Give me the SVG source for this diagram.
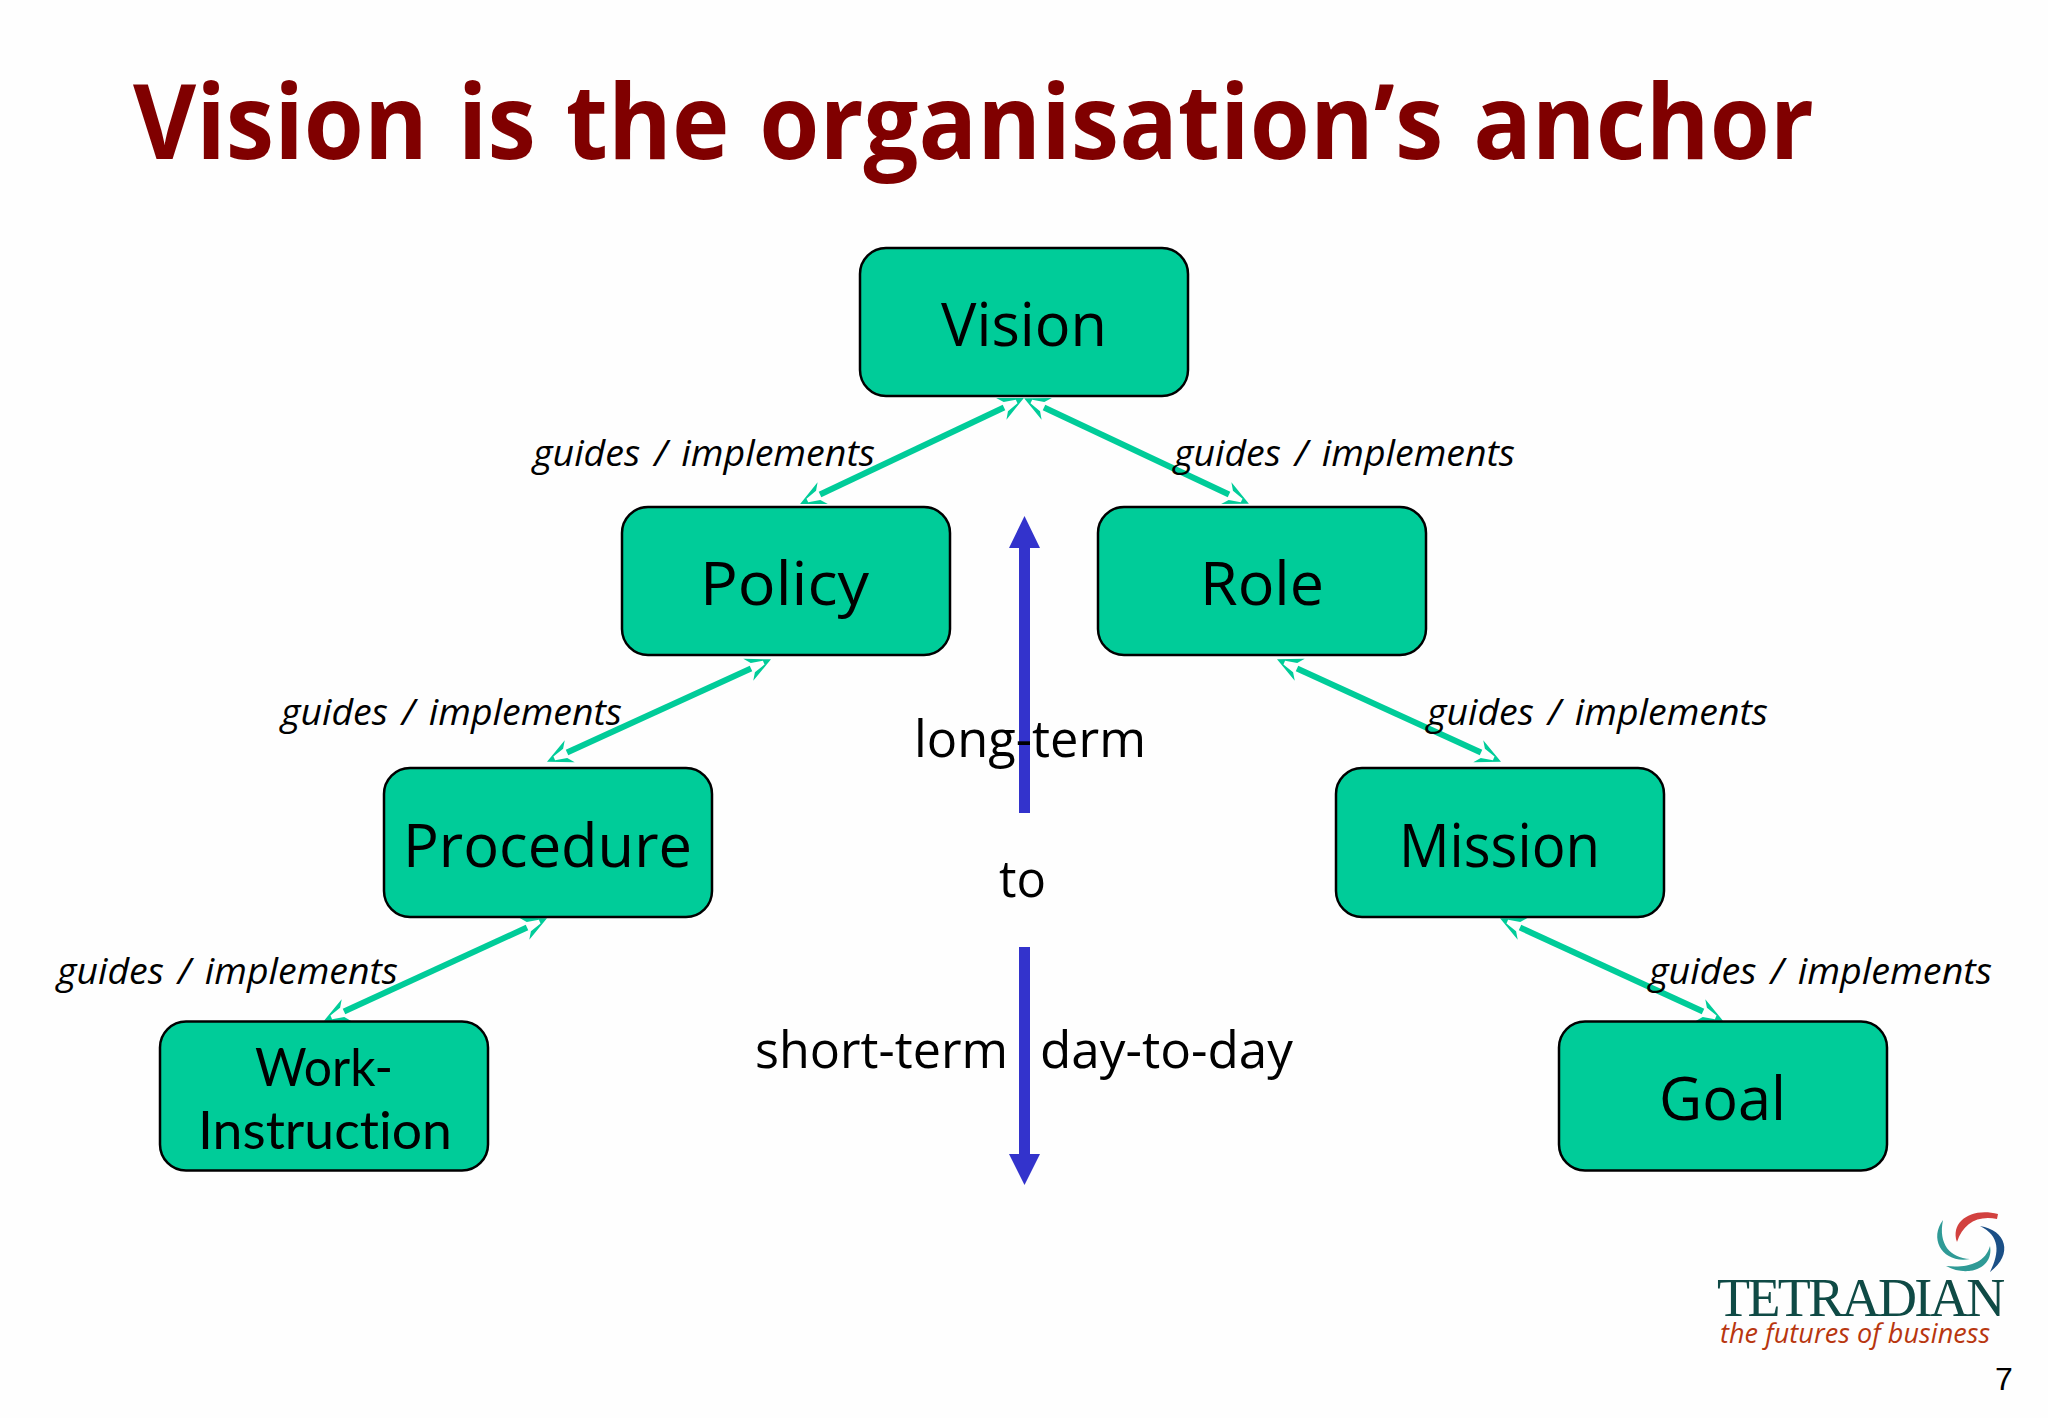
<svg xmlns="http://www.w3.org/2000/svg" width="2048" height="1418" viewBox="0 0 2048 1418">
<style>
text{font-family:"Open Sans","Noto Sans","DejaVu Sans",sans-serif;fill:#000}
.box{fill:#00cc99;stroke:#000;stroke-width:2.500}
.nl{font-size:60px}
.nl2{font-size:52px;font-family:Lato,"Open Sans",sans-serif;font-variant-ligatures:none}
.mid{font-size:52px}
.rel{font-size:36px;font-style:italic;word-spacing:4px}
.con{stroke:#00cc99;stroke-width:6;fill:none;marker-start:url(#ah);marker-end:url(#ah)}
.blue{fill:#3333cc}
</style>
<defs>
<marker id="ah" markerUnits="userSpaceOnUse" markerWidth="34" markerHeight="30" refX="8" refY="15" orient="auto-start-reverse" viewBox="0 0 34 30">
<path transform="translate(0,15)" d="M30,0L5,-12L10,-5L22,-2L22,2L10,5L5,12Z" fill="#00cc99"/>
</marker>
</defs>
<rect width="2048" height="1418" fill="#fefefe"/>
<text id="title" x="133" y="159" font-size="104" font-weight="700" style="fill:#800000;word-spacing:5px" textLength="1681" lengthAdjust="spacingAndGlyphs">Vision is the organisation’s anchor</text>
<g id="connectors">
<line class="con" x1="1004" y1="407.500" x2="820" y2="494.500"/>
<line class="con" x1="1044" y1="407.500" x2="1229" y2="494.500"/>
<line class="con" x1="751" y1="668.500" x2="567" y2="752.500"/>
<line class="con" x1="1297" y1="668.500" x2="1481" y2="752.500"/>
<line class="con" x1="527" y1="927.500" x2="344" y2="1011.500"/>
<line class="con" x1="1520" y1="927.500" x2="1703" y2="1011.500"/>
<text class="rel" x="533" y="466" textLength="342" lengthAdjust="spacingAndGlyphs">guides / implements</text>
<text class="rel" x="1174" y="466" textLength="341" lengthAdjust="spacingAndGlyphs">guides / implements</text>
<text class="rel" x="281" y="725" textLength="341" lengthAdjust="spacingAndGlyphs">guides / implements</text>
<text class="rel" x="1427" y="725" textLength="341" lengthAdjust="spacingAndGlyphs">guides / implements</text>
<text class="rel" x="57" y="984" textLength="341" lengthAdjust="spacingAndGlyphs">guides / implements</text>
<text class="rel" x="1649" y="984" textLength="343" lengthAdjust="spacingAndGlyphs">guides / implements</text>
</g>
<g id="node-vision"><rect class="box" x="860" y="248" width="328" height="148" rx="26"/><text class="nl" x="941" y="346" textLength="166" lengthAdjust="spacingAndGlyphs">Vision</text></g>
<g id="node-policy"><rect class="box" x="622" y="507" width="328" height="148" rx="26"/><text class="nl" x="700" y="605" textLength="169" lengthAdjust="spacingAndGlyphs">Policy</text></g>
<g id="node-role"><rect class="box" x="1098" y="507" width="328" height="148" rx="26"/><text class="nl" x="1200" y="605" textLength="124" lengthAdjust="spacingAndGlyphs">Role</text></g>
<g id="node-procedure"><rect class="box" x="384" y="768" width="328" height="149" rx="26"/><text class="nl" x="403" y="867" textLength="289" lengthAdjust="spacingAndGlyphs">Procedure</text></g>
<g id="node-mission"><rect class="box" x="1336" y="768" width="328" height="149" rx="26"/><text class="nl" x="1399" y="867" textLength="201" lengthAdjust="spacingAndGlyphs">Mission</text></g>
<g id="node-work-instruction"><rect class="box" x="160" y="1021.500" width="328" height="149" rx="26"/><text class="nl2" x="255" y="1086" textLength="138" lengthAdjust="spacingAndGlyphs">Work-</text><text class="nl2" x="198" y="1149" textLength="254" lengthAdjust="spacingAndGlyphs">Instruction</text></g>
<g id="node-goal"><rect class="box" x="1559" y="1021.500" width="328" height="149" rx="26"/><text class="nl" x="1659" y="1120" textLength="127" lengthAdjust="spacingAndGlyphs">Goal</text></g>
<g id="timescale">
<path class="blue" d="M1024.500,516L1040,548L1030,548L1030,813L1019,813L1019,548L1009,548Z"/>
<path class="blue" d="M1019,947L1030,947L1030,1154L1040,1154L1024.500,1185L1009,1154L1019,1154Z"/>
<text class="mid" x="914" y="757" textLength="232" lengthAdjust="spacingAndGlyphs">long-term</text>
<text class="mid" x="999" y="897" textLength="47" lengthAdjust="spacingAndGlyphs">to</text>
<text class="mid" x="755" y="1068" textLength="253" lengthAdjust="spacingAndGlyphs">short-term</text>
<text class="mid" x="1040" y="1068" textLength="253" lengthAdjust="spacingAndGlyphs">day-to-day</text>
</g>
<g id="logo">
<path fill="#d2413f" d="M1957,1242C1950,1221 1972,1207 1998,1214L1997,1219C1977,1215 1963,1224 1957,1242Z"/>
<path fill="#1b4f86" d="M1980,1226C2006,1230 2014,1254 1990,1272C2000,1252 2000,1236 1980,1226Z"/>
<path fill="#2f9a96" d="M1943,1220C1928,1240 1944,1264 1970,1259C1950,1258 1938,1244 1943,1220Z"/>
<path fill="#2f9a96" d="M1990,1246C1994,1268 1968,1278 1946,1266C1966,1268 1985,1264 1990,1246Z"/>
<text font-size="27" font-style="italic" style="fill:#b8360f"><tspan x="1717" y="1316" font-size="54" font-style="normal" style="font-family:'Liberation Serif',serif;fill:#0f4a45;letter-spacing:-2.600px">TETRADIAN</tspan><tspan x="1720" y="1343" style="letter-spacing:0.070px">the futures of business</tspan></text>
</g>
<text id="page-number" x="1995" y="1390" font-size="32" style="font-family:'Liberation Sans',sans-serif">7</text>
</svg>
